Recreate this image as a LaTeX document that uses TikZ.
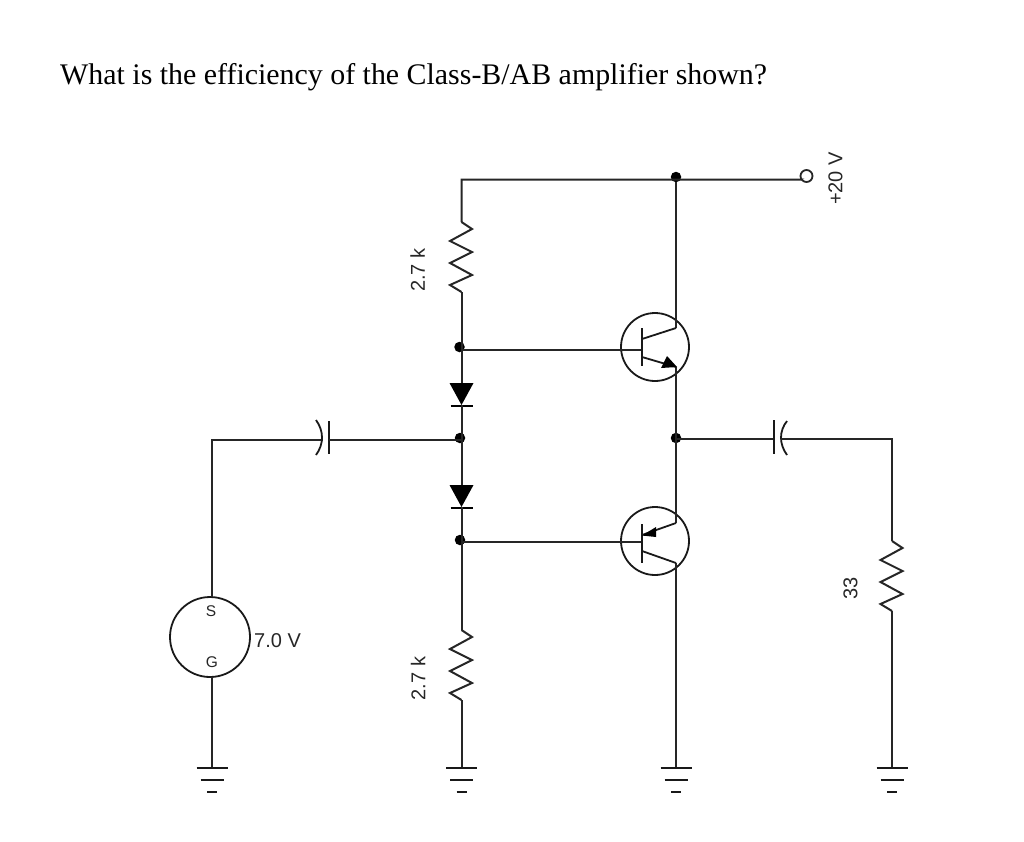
\documentclass[tikz,border=0pt]{standalone}
\usepackage{fontspec}
\setmainfont{Liberation Serif}
\newfontfamily\labelfont{Liberation Sans}
\usetikzlibrary{calc}

\tikzset{
    wire/.style={line width=2pt, black!85, line join=miter},
    thinwire/.style={line width=1.8pt, black!90},
    dot/.style={circle, fill=black, inner sep=0pt, minimum size=10.5pt},
    lbl/.style={font=\labelfont\fontsize{20}{24}\selectfont, text=black!85, inner sep=0pt},
    smalllbl/.style={font=\labelfont\fontsize{15.5}{18}\selectfont, text=black!85, inner sep=0pt},
    bjt/.style={circle, draw=black!90, line width=1.8pt, inner sep=0pt, minimum size=68pt},
    res/.pic={
        \draw[wire] (0,0) -- (10.5,7) -- (-11.5,19) -- (10.5,30) -- (-11.5,41) -- (10.5,53) -- (-11.5,63) -- (0,70);
    },
    gnd/.pic={
        \draw[thinwire] (-15.5,0) -- (15.5,0);
        \draw[thinwire] (-11.5,12) -- (11.5,12);
        \draw[thinwire] (-5,24) -- (5,24);
    },
    diode/.pic={
        \fill[black] (-12,0) -- (12,0) -- (0,22) -- cycle;
        \draw[line width=2pt, black] (-11,22.5) -- (11,22.5);
    },
}

\begin{document}
\begin{tikzpicture}[x=1pt,y=-1pt]
    \useasboundingbox (0,0) rectangle (1024,841);

    % Question
    \node[anchor=base west, inner sep=0pt, font=\fontsize{29.9}{34}\selectfont] (q) at (60,84) {What is the efficiency of the Class-B/AB amplifier shown?};

    % Wire corners and free points
    \coordinate (railL) at (461.5,179.5);
    \coordinate (railR) at (801,179.5);
    \coordinate (r1a) at (461.5,222);
    \coordinate (r1b) at (461.5,292);
    \coordinate (d1a) at (461.5,383);
    \coordinate (d1b) at (461.5,405);
    \coordinate (d2a) at (461.5,485);
    \coordinate (d2b) at (461.5,507);
    \coordinate (r2a) at (461.5,630);
    \coordinate (r2b) at (461.5,700);
    \coordinate (g2) at (461.5,768);
    \coordinate (inC) at (212,440);
    \coordinate (srcT) at (212,597);
    \coordinate (srcB) at (212,677);
    \coordinate (c1L) at (323,440);
    \coordinate (c1R) at (329,440);
    \coordinate (w1) at (461.5,440);
    \coordinate (g1) at (212,768);
    \coordinate (j5w) at (676,439);
    \coordinate (c2L) at (774,439);
    \coordinate (c2R) at (781,439);
    \coordinate (outC) at (892,439);
    \coordinate (r3a) at (892,541);
    \coordinate (r3b) at (892,611);
    \coordinate (g4) at (892,768);
    \coordinate (g3) at (676,768);
    \coordinate (q1c) at (676,328);
    \coordinate (q1e) at (676,367);
    \coordinate (q2e) at (676,523);
    \coordinate (q2c) at (676,563);
    \coordinate (q1w) at (461.5,350);
    \coordinate (q2w) at (461.5,542);
    \coordinate (q1b) at (642,350);
    \coordinate (q2b) at (642,542);

    % Junctions and components
    \node[dot] (j1) at (676,177) {};
    \node[dot] (j2) at (459.5,347) {};
    \node[dot] (j3) at (460,438) {};
    \node[dot] (j4) at (460,540) {};
    \node[dot] (j5) at (676,438) {};
    \node[circle, draw=black!85, line width=1.8pt, inner sep=0pt, minimum size=12pt] (vcc) at (806.5,176) {};
    \node[bjt] (q1) at (655,347) {};
    \node[bjt] (q2) at (655,541) {};
    \node[circle, draw=black!90, line width=1.8pt, inner sep=0pt, minimum size=80pt] (src) at (210,637) {};

    % Supply rail and left leg
    \draw[wire] (r1a) -- (railL) -- (railR) -- (vcc);
    \pic at (r1a) {res};
    \draw[wire] (r1b) -- (d1a);
    \pic at (d1a) {diode};
    \draw[wire] (d1b) -- (d2a);
    \pic at (d2a) {diode};
    \draw[wire] (d2b) -- (r2a);
    \pic at (r2a) {res};
    \draw[wire] (r2b) -- (g2);
    \pic at (g2) {gnd};

    % Output leg
    \draw[wire] (j1) -- (q1c);
    \draw[wire] (q1e) -- (q2e);
    \draw[wire] (q2c) -- (g3);
    \pic at (g3) {gnd};

    % Top transistor
    \draw[wire] (q1w) -- (q1b);
    \draw[thinwire] (642,328) -- (642,366);
    \draw[thinwire] (642,339) -- (q1c);
    \draw[thinwire] (642,357) -- (q1e);
    \fill[black] (677,367) -- (667,356) -- (661,368) -- cycle;

    % Bottom transistor
    \draw[wire] (q2w) -- (q2b);
    \draw[thinwire] (642,524) -- (642,563);
    \draw[thinwire] (642,535) -- (q2e);
    \fill[black] (642,535.5) -- (656,527) -- (656,537) -- cycle;
    \draw[thinwire] (642,551) -- (q2c);

    % Input side
    \draw[wire] (srcT) -- (inC) -- (c1L);
    \draw[thinwire] (316,420) .. controls (324,431) and (324,444) .. (316,455);
    \draw[thinwire] (329,421) -- (329,454);
    \draw[wire] (c1R) -- (w1);
    \draw[wire] (srcB) -- (g1);
    \pic at (g1) {gnd};

    % Output side
    \draw[wire] (j5w) -- (c2L);
    \draw[thinwire] (774,420) -- (774,454);
    \draw[thinwire] (787,421) .. controls (779,431) and (779,444) .. (787,455);
    \draw[wire] (c2R) -- (outC) -- (r3a);
    \pic at (r3a) {res};
    \draw[wire] (r3b) -- (g4);
    \pic at (g4) {gnd};

    % Labels
    \node[lbl, rotate=90] (l1) at (835.5,178.5) {+20 V};
    \node[lbl, rotate=90] (l2) at (417.5,270) {2.7 k};
    \node[lbl, rotate=90] (l3) at (418,678.5) {2.7 k};
    \node[lbl, rotate=90] (l4) at (850.5,588) {33};
    \node[lbl, anchor=west] (l5) at (254,640.5) {7.0 V};
    \node[smalllbl] (s) at (211,611) {S};
    \node[smalllbl] (g) at (212,662) {G};
\end{tikzpicture}
\end{document}
